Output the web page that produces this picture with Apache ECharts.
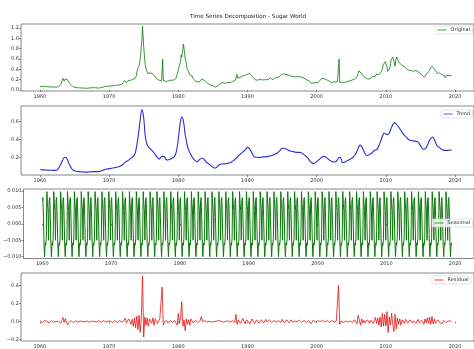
<!DOCTYPE html>
<html>
<head>
<meta charset="utf-8">
<script src="https://cdn.jsdelivr.net/npm/echarts@6/dist/echarts.min.js"></script>
<style>
  html, body { margin: 0; padding: 0; background: #fff; }
  #chart { width: 474px; height: 349px; }
</style>
</head>
<body>
<div id="chart"></div>
<script>
// Sugar (world) price, $/kg — monthly from Jan 1960 to Jul 2019
const firstYear = 1960;
const originalMonthly = [
  .066,.065,.064,.065,.066,.068,.070,.069,.070,.072,.069,.066,
  .064,.063,.062,.060,.058,.060,.064,.062,.061,.059,.057,.056,
  .056,.054,.055,.058,.057,.056,.055,.058,.060,.064,.070,.085,
  .105,.130,.165,.200,.225,.195,.175,.200,.215,.240,.250,.225,
  .200,.175,.150,.140,.125,.110,.100,.090,.075,.065,.058,.055,
  .052,.050,.048,.046,.044,.043,.042,.041,.040,.041,.042,.041,
  .040,.039,.038,.037,.036,.035,.036,.035,.034,.033,.034,.035,
  .036,.037,.038,.039,.040,.041,.040,.042,.044,.046,.045,.044,
  .043,.042,.041,.040,.038,.037,.038,.040,.041,.043,.045,.047,
  .050,.055,.060,.065,.070,.068,.072,.075,.073,.072,.074,.076,
  .075,.074,.076,.078,.080,.079,.078,.081,.083,.085,.087,.088,
  .090,.092,.095,.097,.096,.094,.098,.100,.102,.105,.110,.115,
  .125,.140,.160,.180,.165,.150,.140,.155,.170,.185,.175,.195,
  .200,.185,.190,.200,.205,.210,.205,.215,.210,.220,.235,.265,
  .330,.380,.420,.450,.470,.520,.600,.720,.860,.980,1.240,1.050,
  .850,.700,.560,.470,.420,.380,.350,.320,.340,.310,.290,.330,
  .310,.300,.330,.320,.310,.290,.285,.270,.260,.250,.220,.200,
  .190,.185,.195,.200,.190,.180,.175,.170,.180,.600,.185,.175,
  .170,.175,.180,.165,.160,.165,.170,.175,.180,.175,.180,.190,
  .180,.185,.190,.195,.190,.195,.200,.210,.225,.250,.300,.340,
  .400,.430,.470,.450,.550,.680,.640,.720,.800,.890,.860,.720,
  .600,.560,.500,.440,.400,.370,.350,.330,.290,.270,.280,.280,
  .270,.250,.220,.200,.190,.180,.170,.160,.150,.145,.150,.160,
  .165,.160,.170,.180,.200,.215,.230,.225,.210,.190,.180,.170,
  .160,.150,.140,.130,.125,.115,.110,.100,.095,.090,.085,.080,
  .080,.075,.070,.065,.060,.055,.060,.070,.085,.090,.095,.100,
  .110,.120,.130,.125,.120,.130,.140,.150,.145,.140,.130,.130,
  .135,.140,.145,.140,.150,.155,.145,.150,.160,.155,.160,.170,
  .180,.190,.185,.190,.200,.220,.300,.230,.210,.220,.230,.240,
  .230,.240,.250,.270,.260,.275,.290,.280,.270,.280,.290,.300,
  .310,.320,.330,.330,.320,.300,.290,.280,.260,.250,.240,.220,
  .210,.200,.195,.190,.180,.190,.200,.210,.195,.200,.205,.210,
  .205,.200,.195,.200,.210,.220,.215,.200,.190,.185,.195,.200,
  .200,.210,.225,.230,.240,.220,.210,.200,.205,.215,.220,.230,
  .235,.240,.245,.240,.235,.245,.255,.260,.265,.270,.280,.300,
  .310,.320,.330,.320,.310,.300,.295,.290,.300,.295,.290,.285,
  .285,.280,.275,.270,.265,.270,.260,.255,.260,.265,.260,.265,
  .255,.260,.265,.270,.260,.265,.270,.260,.255,.250,.245,.250,
  .240,.235,.230,.225,.220,.210,.205,.195,.190,.185,.180,.175,
  .165,.145,.130,.115,.120,.125,.130,.135,.145,.155,.150,.140,
  .140,.135,.130,.145,.160,.170,.190,.210,.220,.230,.225,.215,
  .215,.220,.225,.230,.215,.200,.195,.190,.180,.175,.170,.165,
  .160,.155,.145,.150,.160,.170,.165,.155,.150,.160,.170,.165,
  .160,.165,.155,.600,.150,.145,.150,.160,.155,.150,.145,.150,
  .150,.145,.150,.155,.160,.165,.165,.170,.170,.175,.180,.185,
  .185,.190,.195,.200,.200,.210,.215,.220,.230,.240,.250,.280,
  .320,.370,.400,.380,.360,.330,.320,.310,.280,.260,.250,.250,
  .240,.230,.220,.210,.205,.210,.220,.215,.210,.220,.230,.230,
  .240,.260,.270,.260,.250,.260,.290,.300,.280,.270,.285,.280,
  .300,.310,.300,.320,.350,.380,.400,.480,.500,.470,.480,.550,
  .580,.570,.450,.360,.330,.370,.400,.420,.480,.580,.570,.600,
  .640,.620,.570,.520,.460,.560,.600,.640,.600,.570,.560,.530,
  .520,.540,.550,.520,.480,.460,.490,.470,.450,.440,.430,.420,
  .410,.400,.400,.390,.380,.370,.360,.370,.380,.390,.380,.370,
  .360,.370,.380,.390,.380,.380,.370,.360,.350,.345,.340,.330,
  .320,.320,.290,.280,.270,.270,.260,.250,.245,.290,.310,.320,
  .330,.320,.330,.360,.380,.420,.440,.450,.460,.480,.460,.420,
  .450,.440,.400,.360,.340,.320,.330,.320,.320,.330,.330,.320,
  .310,.300,.280,.270,.270,.280,.260,.240,.240,.280,.280,.270,
  .280,.280,.280,.275,.270,.270,.275
];

// Trend component — quarterly, from 1960 Q1 to 2019 Q3
const trendQuarterly = [
  .062,.061,.060,.059,  .058,.057,.056,.055,  .054,.054,.060,.085,  .120,.160,.195,.200,
  .170,.120,.085,.060,  .050,.045,.042,.040,  .038,.036,.035,.035,  .036,.038,.040,.041,
  .040,.040,.042,.045,  .052,.060,.066,.070,  .074,.077,.080,.083,  .088,.092,.097,.105,
  .120,.140,.155,.165,  .180,.195,.210,.240,  .330,.460,.620,.730,  .640,.420,.340,.310,
  .290,.270,.250,.220,  .195,.180,.205,.210,  .205,.175,.170,.175,  .185,.195,.215,.270,
  .400,.560,.650,.600,  .450,.350,.280,.240,  .205,.180,.160,.150,  .170,.185,.190,.175,
  .150,.135,.120,.105,  .090,.080,.085,.105,  .120,.125,.125,.128,  .130,.135,.140,.150,
  .165,.180,.200,.220,  .235,.255,.270,.290,  .310,.300,.270,.230,  .205,.200,.200,.198,
  .200,.205,.205,.207,  .210,.215,.220,.225,  .235,.245,.260,.280,  .300,.300,.295,.285,
  .275,.270,.265,.260,  .255,.255,.255,.250,  .240,.225,.210,.190,  .160,.140,.130,.135,
  .150,.170,.185,.200,  .210,.205,.190,.175,  .160,.150,.148,.150,  .170,.200,.190,.140,
  .145,.155,.165,.175,  .185,.200,.220,.250,  .300,.335,.320,.280,  .240,.220,.225,.235,
  .250,.270,.280,.290,  .330,.380,.430,.470,  .460,.450,.470,.520,  .560,.585,.570,.545,
  .520,.490,.460,.440,  .420,.400,.390,.385,  .380,.380,.375,.360,  .330,.300,.290,.300,
  .330,.380,.410,.425,  .400,.350,.320,.310,  .290,.280,.275,.275,  .278,.280,.282
];

// Seasonal component — one value per calendar month (Jan..Dec)
const seasonalByMonth = [0.0070, 0.0080, 0.0020, -0.0060, -0.0100, -0.0058,
                         -0.0065, -0.0045, 0.0098, 0.0062, 0.0040, -0.0050];

// Residual component — every second month (Jan, Mar, May, Jul, Sep, Nov)
const residualBimonthly = [
  .010,.000,-.012,-.005,.010,.015,    .005,-.010,-.015,.000,.012,.008,
  -.005,-.012,.000,.010,.005,-.015,   -.020,.010,.045,-.010,.030,.015,
  -.035,-.010,.012,.010,-.005,-.010,  .000,.008,.005,-.006,-.008,.004,
  .008,.002,-.006,-.004,.006,.008,    .000,-.008,-.004,.006,.008,.000,
  -.008,-.005,.005,.010,.000,-.008,   -.006,.010,.012,-.004,-.010,.004,
  .010,.006,-.008,-.010,.004,.010,    .004,-.012,-.008,.012,.015,-.006,
  -.020,.010,.040,-.015,-.025,.030,   .020,-.030,.025,-.050,.040,-.070,
  .060,-.090,.070,-.120,.060,.500,    -.170,.050,-.040,.040,-.050,.030,
  .050,-.020,.040,-.040,.030,.045,    -.020,-.040,.030,.010,.380,-.040,
  .000,.015,.010,-.015,-.010,.010,    .015,-.005,-.020,.010,.020,-.040,
  .090,-.020,.050,.220,-.050,.020,    -.100,.030,-.030,.020,-.040,.030,
  .010,-.015,-.005,.015,.010,-.010,   -.015,.010,.055,.000,-.015,.010,
  .015,-.005,-.012,.005,.012,-.005,   -.010,.000,.012,.005,-.012,.010,
  .020,.005,-.015,-.005,.015,.000,    -.012,.010,.020,-.008,-.015,.010,
  .020,-.010,.080,-.030,.020,.000,    -.020,.010,.035,.000,-.025,.020,
  .040,.000,-.030,-.010,.030,.010,    -.020,-.010,.020,.015,-.015,.000,
  .020,.010,-.015,-.010,.025,-.005,   -.015,.020,.040,-.010,-.015,.010,
  .020,-.005,-.015,.010,.020,-.010,   .025,.005,-.015,-.010,.020,.005,
  -.012,.010,.020,-.005,-.015,.005,   .012,.000,-.010,.015,.010,-.010,
  -.005,.012,.008,-.010,-.012,.010,   .010,-.025,-.010,.015,.020,-.005,
  -.015,.010,.030,.000,-.020,.015,    .020,-.005,-.015,.010,.015,-.010,
  -.010,.012,.020,-.005,-.015,.005,   -.010,.400,-.030,.005,.010,-.010,
  -.010,.005,.015,-.005,-.012,.008,   .015,-.010,-.015,.020,.025,-.025,
  .070,.020,-.040,.030,-.020,.015,    -.015,-.005,.020,.010,-.020,.015,
  .025,-.020,-.030,.045,-.020,.040,   -.040,.050,-.060,.090,-.050,.080,
  -.050,.110,-.120,.050,-.040,.090,   -.030,-.110,.080,-.080,.040,-.030,
  .030,-.040,.020,.010,-.020,.025,    .015,-.020,-.010,.020,.015,-.015,
  .010,.015,-.020,-.005,.025,-.010,   -.020,.015,.010,-.030,.030,-.015,
  .040,-.020,.050,-.030,.055,-.025,   .030,-.020,-.010,.020,.015,-.015,
  .005,-.020,.015,.010,-.010,-.015,   .005,.000,.008,-.002
];

const decadeTicks = [1960, 1970, 1980, 1990, 2000, 2010, 2020];
const chartTitle = 'Time Series Decomposition - Sugar World';

// ---- build [year, value] pairs ----
const toPairs = (arr, perYear) => arr.map((v, i) => [firstYear + i / perYear, v]);
const originalPts = toPairs(originalMonthly, 12);
const trendPts = toPairs(trendQuarterly, 4);
const seasonalPts = originalMonthly.map((_, i) => [firstYear + i / 12, seasonalByMonth[i % 12]]);
const residualPts = toPairs(residualBimonthly, 6);

const FONT = 'DejaVu Sans';
const minus = s => s.replace('-', '\u2212');
const panels = [
  { top: 24,  height: 67,   min: -0.02,    max: 1.28,   ticks: [0, 0.2, 0.4, 0.6, 0.8, 1.0, 1.2], dec: 1 },
  { top: 106, height: 69,   min: 0.003,    max: 0.77,   ticks: [0.2, 0.4, 0.6], dec: 1 },
  { top: 189, height: 69.5, min: -0.01055, max: 0.0106, ticks: [-0.01, -0.005, 0, 0.005, 0.01], dec: 3 },
  { top: 273, height: 70,   min: -0.214,   max: 0.536,  ticks: [-0.2, 0, 0.2, 0.4], dec: 1 }
];
const GRID_LEFT = 21, GRID_WIDTH = 455;
const X_MIN = 1957.27, X_MAX = 2022.74;

const tickStyle = { show: true, length: 2, lineStyle: { color: '#444', width: 0.6 } };
const labelStyle = { fontSize: 5, color: '#333', fontFamily: FONT };

const option = {
  animation: false,
  backgroundColor: '#fff',
  graphic: [{
    type: 'text', x: 248, y: 17,
    style: { text: chartTitle, fontSize: 5.6, fill: '#222', fontFamily: FONT,
             textAlign: 'center', textVerticalAlign: 'middle' }
  }],
  grid: panels.map(p => ({
    left: GRID_LEFT, width: GRID_WIDTH, top: p.top, height: p.height,
    show: true, borderColor: '#555', borderWidth: 0.7, backgroundColor: 'transparent'
  })),
  xAxis: panels.map((p, i) => ({
    type: 'value', gridIndex: i, min: X_MIN, max: X_MAX,
    axisLine: { show: false },
    axisTick: Object.assign({ customValues: decadeTicks }, tickStyle),
    axisLabel: Object.assign({ customValues: decadeTicks, margin: 3, formatter: v => String(Math.round(v)) }, labelStyle),
    splitLine: { show: false }
  })),
  yAxis: panels.map((p, i) => ({
    type: 'value', gridIndex: i, min: p.min, max: p.max,
    axisLine: { show: false },
    axisTick: Object.assign({ customValues: p.ticks }, tickStyle),
    axisLabel: Object.assign({ customValues: p.ticks, margin: 2,
      formatter: v => minus(Number(v).toFixed(p.dec)) }, labelStyle),
    splitLine: { show: false }
  })),
  legend: [
    { data: ['Original'], left: 435, top: 26 },
    { data: ['Trend'],    left: 441, top: 110 },
    { data: ['Seasonal'], left: 432, top: 219 },
    { data: ['Residual'], left: 432, top: 276 }
  ].map(l => Object.assign({
    orient: 'horizontal', icon: 'rect', itemWidth: 9, itemHeight: 0.8, itemGap: 0,
    padding: [1.5, 2.5], backgroundColor: 'rgba(255,255,255,0.8)',
    borderColor: '#d0d0d0', borderWidth: 0.6, borderRadius: 1.5,
    selectedMode: false, textStyle: { fontSize: 5, color: '#333', fontFamily: FONT, padding: [0, 0, 0, -1] }
  }, l)),
  series: [
    { name: 'Original', type: 'line', xAxisIndex: 0, yAxisIndex: 0, data: originalPts,
      showSymbol: false, color: '#0a7a0a', lineStyle: { width: 0.8 } },
    { name: 'Trend', type: 'line', xAxisIndex: 1, yAxisIndex: 1, data: trendPts,
      showSymbol: false, smooth: 0.35, color: '#2b2bd6', lineStyle: { width: 1.1 } },
    { name: 'Seasonal', type: 'line', xAxisIndex: 2, yAxisIndex: 2, data: seasonalPts,
      showSymbol: false, color: '#0a7a0a', lineStyle: { width: 1.0 } },
    { name: 'Residual', type: 'line', xAxisIndex: 3, yAxisIndex: 3, data: residualPts,
      showSymbol: false, color: '#e41010', lineStyle: { width: 0.8 } }
  ]
};

const chart = echarts.init(document.getElementById('chart'), null, { renderer: 'canvas' });
chart.setOption(option);
</script>
</body>
</html>
